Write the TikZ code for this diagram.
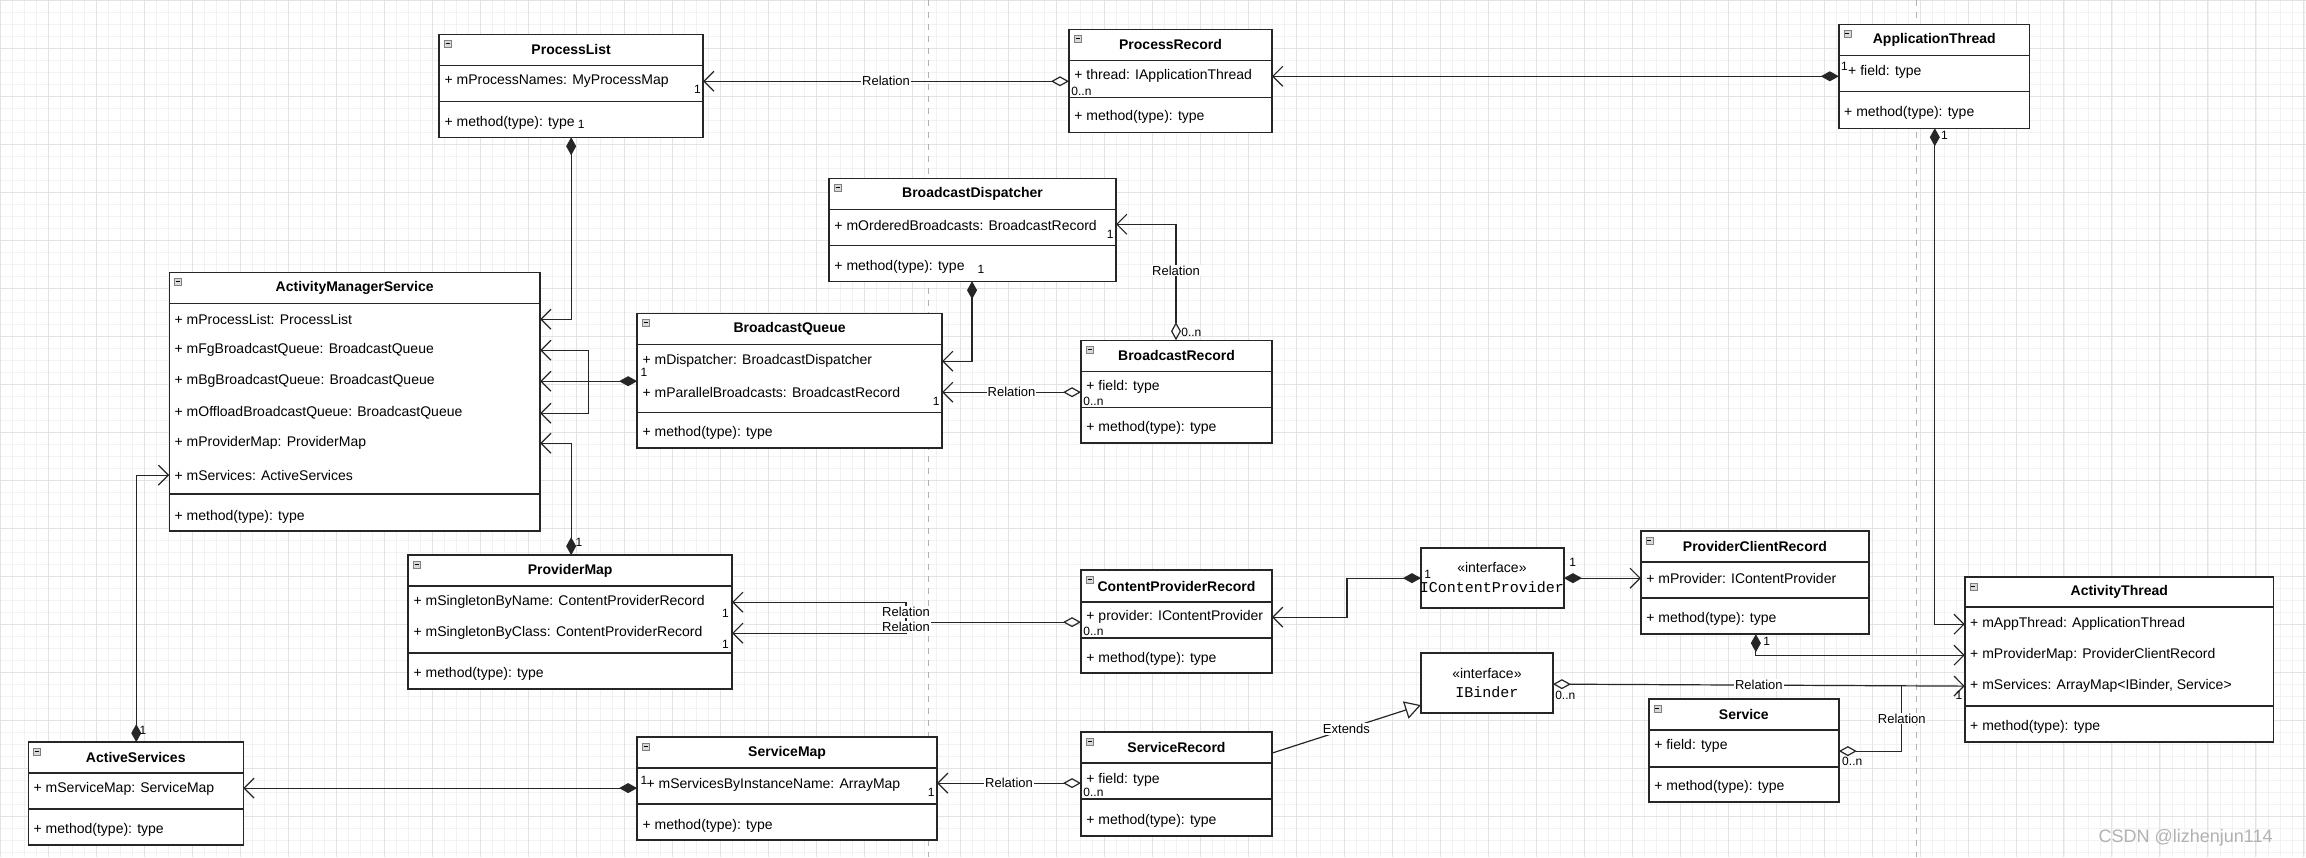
\documentclass[tikz,border=0pt]{standalone}
\usepackage{fontspec}
\setmainfont{Liberation Sans}
\setmonofont{Liberation Mono}
\usetikzlibrary{arrows.meta}
\definecolor{gridclr}{rgb}{0.95, 0.95, 0.95}
\definecolor{majorclr}{rgb}{0.89, 0.89, 0.89}
\definecolor{lineclr}{rgb}{0.15, 0.15, 0.15}
\tikzset{ %
  ,x=0.5pt, y=-0.5pt
  ,every node/.style={font=\fontsize{7}{8}\selectfont}
  ,box/.style={draw=lineclr, line width=0.7pt, fill=white}
  ,title/.style={font=\fontsize{7}{8}\selectfont\bfseries}
  ,row/.style={anchor=west, inner sep=0}
  ,mult/.style={inner sep=0.5pt, font=\fontsize{6}{7}\selectfont}
  ,lbl/.style={fill=white, inner sep=0.5pt, font=\fontsize{6.5}{7}\selectfont}
  ,conn/.style={draw=lineclr, line width=0.6pt}
  ,open/.style={-{Straight Barb[length=5pt, width=10pt]}}
  ,comp/.style={{Diamond[length=9pt, width=5pt]}-{Straight Barb[length=5pt, width=10pt]}}
  ,aggr/.style={{Diamond[open, length=9pt, width=5pt]}-{Straight Barb[length=5pt, width=10pt]}}
  ,compline/.style={{Diamond[length=9pt, width=5pt]}-}
  ,aggrline/.style={{Diamond[open, length=9pt, width=5pt]}-}
  ,extends/.style={-{Triangle[open, length=8pt, width=9pt]}}
}
% class box: name, x1, y1, x2, y2, header bottom, divider, title
\newcommand{\umlclass}[8]{%
  \draw[box] (#2,#3) rectangle (#4,#5);
  \draw[lineclr, line width=0.7pt] (#2,#6) -- (#4,#6) (#2,#7) -- (#4,#7);
  \draw[gray, fill=gray!30, line width=0.3pt] (#2+5,#3+6) rectangle (#2+12,#3+13);
  \draw[black, line width=0.4pt] (#2+6.5,#3+9.5) -- (#2+10.5,#3+9.5);
  \node[title] (#1) at ({(#2+#4)/2},{(#3+#6)/2}) {#8};
}
\newcommand{\umlrow}[4]{\node[row] (#1) at (#2+5,#3) {#4};}

\begin{document}
\begin{tikzpicture}
% background grid
\fill[white] (0,0) rectangle (2306,857);
\foreach \gx in {0,12,...,2306} \draw[gridclr, line width=0.2pt] (\gx,0) -- (\gx,857);
\foreach \gy in {0,12,...,857} \draw[gridclr, line width=0.2pt] (0,\gy) -- (2306,\gy);
\foreach \gx in {0,48,...,2306} \draw[majorclr, line width=0.3pt] (\gx,0) -- (\gx,857);
\foreach \gy in {0,48,...,857} \draw[majorclr, line width=0.3pt] (0,\gy) -- (2306,\gy);
\draw[gray!60, dashed, line width=0.3pt] (928,0) -- (928,857) (1916,0) -- (1916,857);
\useasboundingbox (0,0) rectangle (2306,857);

% classes
\umlclass{pl}{439}{34}{703}{137}{65}{101}{ProcessList}
\umlrow{pl-f1}{439}{81}{+ mProcessNames: MyProcessMap}
\umlrow{pl-m1}{439}{123}{+ method(type): type}

\umlclass{prec}{1069}{29}{1272}{132}{60}{97}{ProcessRecord}
\umlrow{prec-f1}{1069}{76}{+ thread: IApplicationThread}
\umlrow{prec-m1}{1069}{117}{+ method(type): type}

\umlclass{appt}{1839}{24}{2030}{128}{55}{91}{ApplicationThread}
\umlrow{appt-f1}{1843}{72}{+ field: type}
\umlrow{appt-m1}{1839}{113}{+ method(type): type}

\umlclass{bd}{829}{178}{1116}{281}{209}{245}{BroadcastDispatcher}
\umlrow{bd-f1}{829}{225}{+ mOrderedBroadcasts: BroadcastRecord}
\umlrow{bd-m1}{829}{267}{+ method(type): type}

\umlclass{ams}{169}{272}{540}{531}{303}{494}{ActivityManagerService}
\umlrow{ams-f1}{169}{319}{+ mProcessList: ProcessList}
\umlrow{ams-f2}{169}{350}{+ mFgBroadcastQueue: BroadcastQueue}
\umlrow{ams-f3}{169}{381}{+ mBgBroadcastQueue: BroadcastQueue}
\umlrow{ams-f4}{169}{413}{+ mOffloadBroadcastQueue: BroadcastQueue}
\umlrow{ams-f5}{169}{443}{+ mProviderMap: ProviderMap}
\umlrow{ams-f6}{169}{475}{+ mServices: ActiveServices}
\umlrow{ams-m1}{169}{517}{+ method(type): type}

\umlclass{bq}{637}{313}{942}{448}{344}{412}{BroadcastQueue}
\umlrow{bq-f1}{637}{361}{+ mDispatcher: BroadcastDispatcher}
\umlrow{bq-f2}{637}{392}{+ mParallelBroadcasts: BroadcastRecord}
\umlrow{bq-m1}{637}{433}{+ method(type): type}

\umlclass{br}{1081}{340}{1272}{443}{371}{407}{BroadcastRecord}
\umlrow{br-f1}{1081}{387}{+ field: type}
\umlrow{br-m1}{1081}{428}{+ method(type): type}

\umlclass{pm}{408}{555}{732}{689}{586}{653}{ProviderMap}
\umlrow{pm-f1}{408}{602}{+ mSingletonByName: ContentProviderRecord}
\umlrow{pm-f2}{408}{633}{+ mSingletonByClass: ContentProviderRecord}
\umlrow{pm-m1}{408}{674}{+ method(type): type}

\umlclass{cpr}{1081}{570}{1272}{673}{602}{638}{ContentProviderRecord}
\umlrow{cpr-f1}{1081}{617}{+ provider: IContentProvider}
\umlrow{cpr-m1}{1081}{659}{+ method(type): type}

\umlclass{pcr}{1641}{531}{1869}{634}{562}{598}{ProviderClientRecord}
\umlrow{pcr-f1}{1641}{578}{+ mProvider: IContentProvider}
\umlrow{pcr-m1}{1641}{619}{+ method(type): type}

\umlclass{at}{1965}{577}{2274}{742}{607}{706}{ActivityThread}
\umlrow{at-f1}{1965}{624}{+ mAppThread: ApplicationThread}
\umlrow{at-f2}{1965}{655}{+ mProviderMap: ProviderClientRecord}
\umlrow{at-f3}{1965}{686}{+ mServices: ArrayMap<IBinder, Service>}
\umlrow{at-m1}{1965}{727}{+ method(type): type}

\umlclass{as}{28}{742}{243}{845}{773}{809}{ActiveServices}
\umlrow{as-f1}{28}{789}{+ mServiceMap: ServiceMap}
\umlrow{as-m1}{28}{830}{+ method(type): type}

\umlclass{sm}{637}{737}{937}{840}{768}{804}{ServiceMap}
\umlrow{sm-f1}{641}{785}{+ mServicesByInstanceName: ArrayMap}
\umlrow{sm-m1}{637}{826}{+ method(type): type}

\umlclass{sr}{1081}{732}{1272}{836}{763}{799}{ServiceRecord}
\umlrow{sr-f1}{1081}{780}{+ field: type}
\umlrow{sr-m1}{1081}{821}{+ method(type): type}

\umlclass{svc}{1649}{699}{1839}{802}{730}{767}{Service}
\umlrow{svc-f1}{1649}{746}{+ field: type}
\umlrow{svc-m1}{1649}{787}{+ method(type): type}

% interfaces
\draw[box] (1421,548) rectangle (1564,608);
\node (icp-s) at (1492,567) {«interface»};
\node[font=\fontsize{7.5}{8}\ttfamily] (icp) at (1492,587) {IContentProvider};
\draw[box] (1421,653) rectangle (1553,713);
\node (ib-s) at (1487,673) {«interface»};
\node[font=\fontsize{7.5}{8}\ttfamily] (ib) at (1487,692) {IBinder};

% connector end points
\coordinate (pl-r) at (703,81);   \coordinate (prec-l) at (1069,81);
\coordinate (prec-r) at (1272,76);\coordinate (appt-l) at (1839,76);
\coordinate (pl-b) at (571,137);  \coordinate (ams-r1) at (540,319);
\coordinate (bd-b) at (972,281);  \coordinate (bq-r1) at (942,361);
\coordinate (br-t) at (1176,340); \coordinate (bd-r) at (1116,224);
\coordinate (br-l) at (1081,392); \coordinate (bq-r2) at (942,392);
\coordinate (bq-l) at (637,381);  \coordinate (bq-j) at (588,381);
\coordinate (ams-r2) at (540,350);\coordinate (ams-r3) at (540,381);
\coordinate (ams-r4) at (540,413);\coordinate (ams-r5) at (540,443);
\coordinate (pm-t) at (571,555);  \coordinate (ams-l6) at (169,475);
\coordinate (as-t) at (136,742);
\coordinate (cpr-l) at (1081,622);\coordinate (cpr-j) at (906,622);
\coordinate (pm-r1) at (732,602); \coordinate (pm-r2) at (732,633);
\coordinate (icp-l) at (1421,578);\coordinate (cpr-r) at (1272,617);
\coordinate (icp-r) at (1564,578);\coordinate (pcr-l) at (1641,578);
\coordinate (sr-l) at (1081,783); \coordinate (sm-r) at (937,783);
\coordinate (sm-l) at (637,788);  \coordinate (as-r) at (243,788);
\coordinate (sr-r) at (1272,753); \coordinate (ib-l) at (1421,705);
\coordinate (appt-b) at (1935,128);\coordinate (at-l1) at (1965,624);
\coordinate (pcr-b) at (1756,634);\coordinate (at-l2) at (1965,655);
\coordinate (ib-r) at (1553,684); \coordinate (at-l3) at (1965,686);
\coordinate (svc-r) at (1839,751);\coordinate (svc-j) at (1902,686);

% connectors
\draw[conn, aggr] (prec-l) -- node[lbl] {Relation} (pl-r);
\draw[conn, comp] (appt-l) -- (prec-r);
\draw[conn, comp] (pl-b) |- (ams-r1);
\draw[conn, comp] (bd-b) |- (bq-r1);
\draw[conn, aggr] (br-t) |- node[lbl, pos=0.3] {Relation} (bd-r);
\draw[conn, aggr] (br-l) -- node[lbl] {Relation} (bq-r2);
\draw[conn, compline] (bq-l) -- (bq-j);
\draw[conn, open] (bq-j) -- (ams-r3);
\draw[conn, open] (bq-j) |- (ams-r2);
\draw[conn, open] (bq-j) |- (ams-r4);
\draw[conn, comp] (pm-t) |- (ams-r5);
\draw[conn, comp] (as-t) |- (ams-l6);
\draw[conn, aggrline] (cpr-l) -- (cpr-j);
\draw[conn, open] (cpr-j) |- (pm-r1);
\draw[conn, open] (cpr-j) |- (pm-r2);
\node[lbl] (rel1) at (906,612) {Relation};
\node[lbl] (rel2) at (906,627) {Relation};
\draw[conn, comp] (icp-l) -| (1347,617) -- (cpr-r);
\draw[conn, comp] (icp-r) -- (pcr-l);
\draw[conn, aggr] (sr-l) -- node[lbl] {Relation} (sm-r);
\draw[conn, comp] (sm-l) -- (as-r);
\draw[conn, extends] (sr-r) -- node[lbl] {Extends} (ib-l);
\draw[conn, comp] (appt-b) |- (at-l1);
\draw[conn, comp] (pcr-b) |- (at-l2);
\draw[conn, aggr] (ib-r) -- node[lbl] {Relation} (at-l3);
\draw[conn, aggrline] (svc-r) -| node[lbl, pos=0.75] {Relation} (svc-j);

% multiplicities
\node[mult, anchor=south east] at (702,95) {1};
\node[mult, anchor=north west] at (1070,85) {0..n};
\node[mult, anchor=south west] at (1840,72) {1};
\node[mult, anchor=south] at (581,130) {1};
\node[mult, anchor=south] at (981,275) {1};
\node[mult, anchor=south east] at (1115,240) {1};
\node[mult, anchor=south west] at (1180,338) {0..n};
\node[mult, anchor=south east] at (941,407) {1};
\node[mult, anchor=north west] at (1082,396) {0..n};
\node[mult, anchor=south west] at (639,378) {1};
\node[mult, anchor=west] at (574,542) {1};
\node[mult, anchor=west] at (138,730) {1};
\node[mult, anchor=south east] at (730,619) {1};
\node[mult, anchor=south east] at (730,650) {1};
\node[mult, anchor=north west] at (1082,626) {0..n};
\node[mult, anchor=south west] at (1423,580) {1};
\node[mult, anchor=south west] at (1568,568) {1};
\node[mult, anchor=south east] at (936,798) {1};
\node[mult, anchor=north west] at (1082,787) {0..n};
\node[mult, anchor=south west] at (639,786) {1};
\node[mult, anchor=north west] at (1940,130) {1};
\node[mult, anchor=north west] at (1762,636) {1};
\node[mult, anchor=north west] at (1554,690) {0..n};
\node[mult, anchor=north east] at (1964,690) {1};
\node[mult, anchor=north west] at (1841,756) {0..n};

% watermark
\node[text=gray!60, font=\fontsize{9}{10}\selectfont, anchor=east] (wm) at (2280,838) {CSDN @lizhenjun114};
\end{tikzpicture}
\end{document}
